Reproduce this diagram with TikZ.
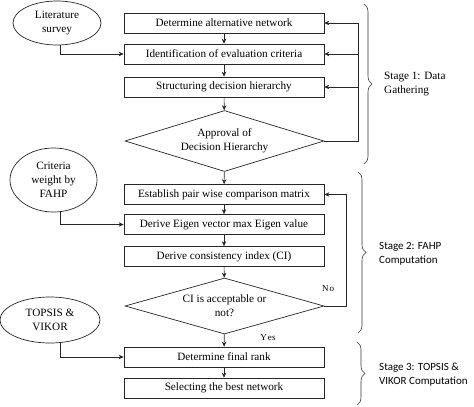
\documentclass[tikz,border=0pt]{standalone}
\usepackage{fontspec}
\setmainfont{Liberation Serif}
\newfontfamily\stagefont{Carlito}
\usetikzlibrary{shapes.geometric,arrows.meta,decorations.pathreplacing}
\begin{document}
\begin{tikzpicture}[x=1pt,y=-1pt,
  every node/.style={font=\fontsize{11.2}{14}\selectfont},
  ln/.style={draw=black!85,line width=0.7pt},
  arr/.style={ln,-{Stealth[length=5pt,width=4.5pt]}},
  procbox/.style={ln,rectangle,minimum width=200pt,minimum height=20pt,inner sep=0pt},
  decbox/.style={ln,diamond,minimum width=199pt,inner sep=0pt,align=center},
  inbox/.style={ln,ellipse,inner sep=0pt,align=center},
  bracestyle/.style={draw=black!80,line width=0.6pt,decorate,decoration={brace,amplitude=8pt}},
  stagetxt/.style={anchor=west,align=left,inner sep=0pt},
  lbl/.style={font=\fontsize{9}{10}\selectfont,inner sep=0pt}
]
\useasboundingbox (0,0) rectangle (474,407);
% main chain
\node[procbox] (b1) at (224,23) {Determine alternative network};
\node[procbox] (b2) at (224,54) {Identification of evaluation criteria};
\node[procbox] (b3) at (224,87) {Structuring decision hierarchy};
\node[decbox,minimum height=61pt,aspect=3.26] (d1) at (224.5,141) {Approval of\\Decision Hierarchy};
\node[procbox] (b4) at (224,194.5) {Establish pair wise comparison matrix};
\node[procbox] (b5) at (224,224.5) {Derive Eigen vector max Eigen value};
\node[procbox] (b6) at (224,256.5) {Derive consistency index (CI)};
\node[decbox,minimum height=56pt,aspect=3.55] (d2) at (224.5,306) {CI is acceptable or\\not?};
\node[procbox] (b7) at (224,357) {Determine final rank};
\node[procbox] (b8) at (224,388) {Selecting the best network};
% inputs
\node[inbox,minimum width=88pt,minimum height=44pt] (e1) at (57,23) {Literature\\survey};
\node[inbox,minimum width=87pt,minimum height=64pt] (e2) at (53.5,180) {Criteria\\weight by\\FAHP};
\node[inbox,minimum width=100pt,minimum height=46pt] (e3) at (50,320) {TOPSIS \&\\VIKOR};
% vertical flow
\draw[arr] (b1) -- (b2);
\draw[arr] (b2) -- (b3);
\draw[arr] (b3) -- (d1);
\draw[arr] (d1) -- (b4);
\draw[arr] (b4) -- (b5);
\draw[arr] (b5) -- (b6);
\draw[arr] (b6) -- (d2);
\draw[arr] (d2) -- (b7);
\draw[arr] (b7) -- (b8);
% input connectors
\draw[arr] ([xshift=3pt]e1.south) |- (b2.west);
\draw[arr] ([xshift=6.5pt]e2.south) |- (b5.west);
\draw[arr] ([xshift=10pt]e3.south) |- (b7.west);
% feedback loop 1
\coordinate (f1) at (358,141);
\draw[arr] (d1.east) -- (f1) |- (b1.east);
\draw[arr] (f1 |- b2.east) -- (b2.east);
\draw[arr] (f1 |- b3.east) -- (b3.east);
% feedback loop 2
\coordinate (f2) at (346,306);
\draw[arr] (d2.east) -- (f2) |- (b4.east);
\node[lbl] (no) at (328,289) {N\kern1pt o};
\node[lbl] (yes) at (268,338) {Y\kern1pt e\kern0.5pt s};
% braces
\coordinate (s1a) at (364,4);
\coordinate (s1b) at (364,164);
\draw[bracestyle] (s1a) -- (s1b);
\node[stagetxt] (t1) at (384,84) {Stage 1: Data\\Gathering};
\coordinate (s2a) at (358,172);
\coordinate (s2b) at (358,333);
\draw[bracestyle] (s2a) -- (s2b);
\node[stagetxt,font=\stagefont\fontsize{11}{14}\selectfont] (t2) at (379,254) {Stage 2: FAHP\\Computation};
\coordinate (s3a) at (357,342);
\coordinate (s3b) at (357,405);
\draw[bracestyle] (s3a) -- (s3b);
\node[stagetxt,font=\stagefont\fontsize{11}{14}\selectfont] (t3) at (379,375) {Stage 3: TOPSIS \&\\VIKOR Computation};
\end{tikzpicture}
\end{document}
